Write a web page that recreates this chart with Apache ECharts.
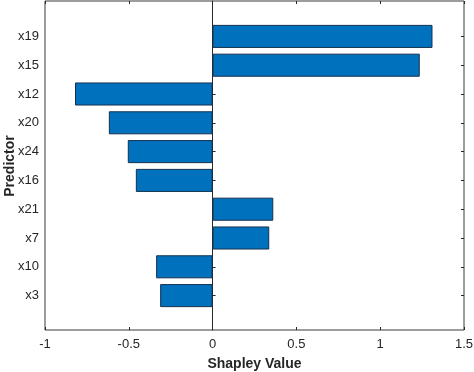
<!DOCTYPE html>
<html>
<head>
<meta charset="utf-8">
<script src="https://cdn.jsdelivr.net/npm/echarts@6/dist/echarts.min.js"></script>
<style>
html,body{margin:0;padding:0;background:#fff;}
#chart{width:474px;height:372px;}
</style>
</head>
<body>
<div id="chart"></div>
<script>
// Data (top to bottom)
const categories = ['x19', 'x15', 'x12', 'x20', 'x24', 'x16', 'x21', 'x7', 'x10', 'x3'];
const shapleyValues = [1.312, 1.236, -0.821, -0.619, -0.506, -0.458, 0.362, 0.338, -0.337, -0.313];
const xMin = -1, xMax = 1.5, xStep = 0.5;

const FONT = '"Liberation Sans", Arial, Helvetica, sans-serif';
const AX = '#262626';

const chart = echarts.init(document.getElementById('chart'), null, {renderer: 'canvas'});
chart.setOption({
  animation: false,
  backgroundColor: '#ffffff',
  grid: [
    {left: 45, right: 10, top: 1, bottom: 42, show: true, borderColor: '#3a3a3a', borderWidth: 1, backgroundColor: 'transparent', containLabel: false, outerBoundsMode: 'none'},
    {left: 45, right: 10, top: 22, height: 288, containLabel: false, outerBoundsMode: 'none'}
  ],
  xAxis: [
    {
      type: 'value', gridIndex: 0, position: 'bottom', min: xMin, max: xMax, interval: xStep,
      axisLine: {show: false, onZero: false},
      axisTick: {show: true, inside: true, length: 3, lineStyle: {color: AX}},
      splitLine: {show: false},
      axisLabel: {color: AX, fontSize: 13, fontFamily: FONT, margin: 8},
      name: 'Shapley Value', nameLocation: 'middle', nameGap: 27, nameMoveOverlap: false,
      nameTextStyle: {color: AX, fontSize: 14, fontWeight: 'bold', fontFamily: FONT}
    },
    {
      type: 'value', gridIndex: 0, position: 'top', min: xMin, max: xMax, interval: xStep,
      axisLine: {show: false, onZero: false},
      axisTick: {show: true, inside: true, length: 3, lineStyle: {color: AX}},
      splitLine: {show: false},
      axisLabel: {show: false}
    },
    {
      type: 'value', gridIndex: 1, min: xMin, max: xMax, interval: xStep, show: false,
      axisLine: {onZero: false}, splitLine: {show: false}
    }
  ],
  yAxis: [
    {
      type: 'value', gridIndex: 0, min: 0, max: 1,
      axisLine: {show: true, onZero: true, onZeroAxisIndex: 0, lineStyle: {color: '#2a2a2a', width: 1}},
      axisTick: {show: false}, axisLabel: {show: false}, splitLine: {show: false}
    },
    {
      type: 'category', gridIndex: 1, position: 'left', data: categories, inverse: true,
      axisLine: {show: false},
      axisTick: {show: true, inside: true, length: 3, alignWithLabel: true, lineStyle: {color: AX}},
      axisLabel: {color: AX, fontSize: 13, fontFamily: FONT, margin: 6},
      splitLine: {show: false},
      name: 'Predictor', nameLocation: 'middle', nameGap: 28, nameRotate: 90, nameMoveOverlap: false,
      nameTextStyle: {color: AX, fontSize: 14, fontWeight: 'bold', fontFamily: FONT}
    },
    {
      type: 'category', gridIndex: 1, position: 'right', data: categories, inverse: true,
      axisLine: {show: false},
      axisTick: {show: true, inside: true, length: 3, alignWithLabel: true, lineStyle: {color: AX}},
      axisLabel: {show: false},
      splitLine: {show: false}
    }
  ],
  series: [
    {
      type: 'line', xAxisIndex: 0, yAxisIndex: 0, data: [], silent: true
    },
    {
      type: 'bar', xAxisIndex: 2, yAxisIndex: 1,
      data: shapleyValues,
      barWidth: '80%',
      itemStyle: {color: '#0072BD', borderColor: '#14304f', borderWidth: 1},
      z: 1
    }
  ]
});
</script>
</body>
</html>
